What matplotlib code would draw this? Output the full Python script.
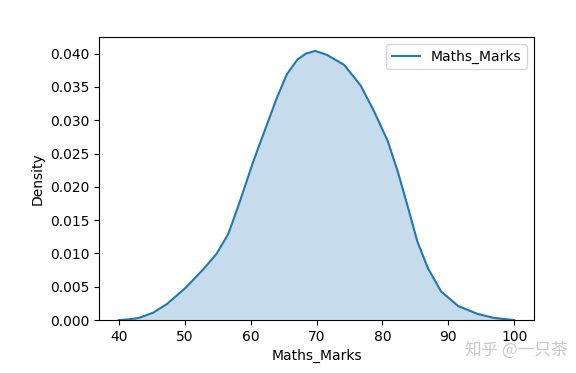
import matplotlib
matplotlib.use("Agg")
import matplotlib.pyplot as plt

# density curve (x = marks, y = density)
marks = [40.0, 41.5, 43.0, 45.2, 47.3, 50.2, 52.8, 54.8, 56.6, 58.3, 60.4, 62.5,
         64.0, 65.5, 67.1, 68.4, 69.8, 71.6, 74.2, 76.7, 78.7, 80.8, 82.3, 83.8,
         85.3, 86.9, 88.9, 91.5, 94.5, 97.0, 100.0]
density = [0.0000, 0.0001, 0.0003, 0.0011, 0.0024, 0.0049, 0.0076, 0.0099, 0.0129,
           0.0176, 0.0238, 0.0294, 0.0334, 0.0369, 0.0391, 0.0400, 0.0404, 0.0398,
           0.0383, 0.0352, 0.0314, 0.0269, 0.0224, 0.0172, 0.0118, 0.0078,
           0.0043, 0.0021, 0.0009, 0.0003, 0.0000]

fig = plt.figure(figsize=(5.76, 3.73), dpi=100)
ax = fig.add_axes([0.172, 0.142, 0.755, 0.759])

ax.plot(marks, density, color="#1f77b4", lw=1.5, label="Maths_Marks")
ax.fill_between(marks, density, color="#1f77b4", alpha=0.25, lw=0)

ax.set_xlim(37, 103)
ax.set_ylim(0, 0.0425)
ax.set_xticks([40, 50, 60, 70, 80, 90, 100])
ax.set_yticks([0.0, 0.005, 0.01, 0.015, 0.02, 0.025, 0.03, 0.035, 0.04])
ax.yaxis.set_major_formatter(matplotlib.ticker.FormatStrFormatter("%.3f"))
ax.set_xlabel("Maths_Marks")
ax.set_ylabel("Density")
ax.legend(loc="upper right")

# watermark in the bottom right corner
fig.text(0.985, 0.062, "知乎 @一只茶", ha="right", va="center", fontsize=12,
         color="#c8c8c8", family=["Noto Sans CJK SC", "DejaVu Sans"])

fig.savefig("out.png", dpi=100)
